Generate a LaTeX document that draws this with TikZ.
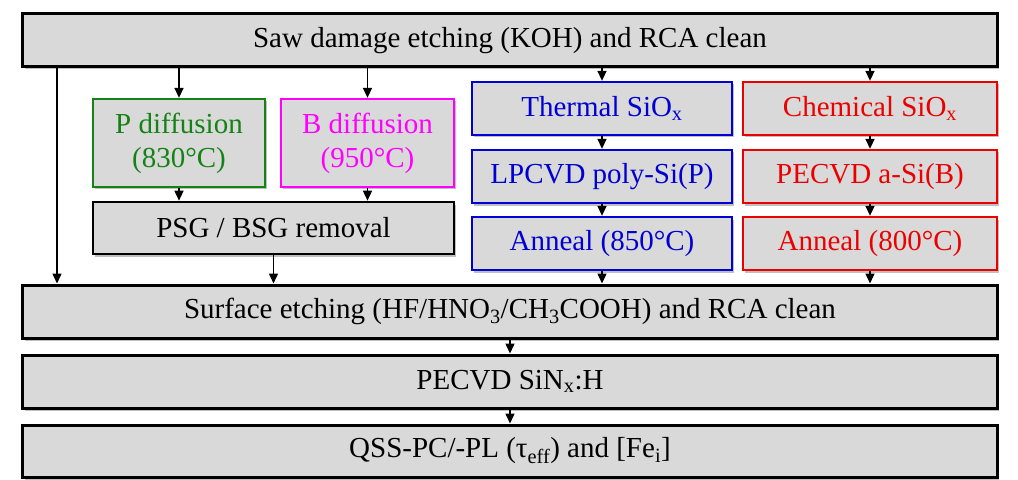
\documentclass[tikz,border=0pt]{standalone}
\usepackage{fontspec}
\setmainfont{Liberation Serif}
\usetikzlibrary{arrows.meta,shadows}
\definecolor{boxfill}{RGB}{217,217,217}
\definecolor{pgreen}{RGB}{20,130,20}
\definecolor{bmagenta}{RGB}{255,0,255}
\definecolor{tblue}{RGB}{0,0,210}
\definecolor{cred}{RGB}{235,0,0}
\begin{document}
\begin{tikzpicture}[
  x=1bp, y=-1bp,
  >={Triangle[length=10bp,width=9bp]},
  flow/.style={line width=1.5bp},
  block/.style={rectangle, draw, fill=boxfill, line width=2.3bp, inner sep=0pt, align=center,
    font=\fontsize{29bp}{34bp}\selectfont,
    drop shadow={shadow xshift=2bp, shadow yshift=-2.5bp, opacity=0.25, fill=black}},
  wide/.style={block, line width=3bp, minimum width=974bp, minimum height=53bp},
  step_p/.style={block, draw=tblue, text=tblue, minimum width=260bp, minimum height=53bp},
  step_b/.style={block, draw=cred, text=cred, minimum width=254bp, minimum height=53bp},
  node distance=68bp
]
\useasboundingbox (0,0) rectangle (1018,480);

% Start
\node[wide] (saw) at (510,40.5) {Saw damage etching (KOH) and RCA clean};
\coordinate (bypass) at (57,0);

% Diffused junctions
\node[block, draw=pgreen, text=pgreen, minimum width=172bp, minimum height=88bp,
  below of=saw, node distance=102.5bp, xshift=-331bp] (pdiff) {P diffusion\\(830°C)};
\node[block, draw=bmagenta, text=bmagenta, minimum width=173bp, minimum height=88bp,
  right of=pdiff, node distance=188.5bp] (bdiff) {B diffusion\\(950°C)};
\node[block, line width=2.6bp, minimum width=361bp, minimum height=52bp,
  below of=pdiff, node distance=85bp, xshift=94.5bp] (psg) {PSG / BSG removal};

% Passivating contacts, P side
\node[step_p, below of=saw, xshift=92bp] (thermal) {Thermal SiO\textsubscript{x}};
\node[step_p, below of=thermal] (lpcvd) {LPCVD poly-Si(P)};
\node[step_p, below of=lpcvd, node distance=67bp] (anneal_p) {Anneal (850°C)};

% Passivating contacts, B side
\node[step_b, right of=thermal, node distance=268bp] (chem) {Chemical SiO\textsubscript{x}};
\node[step_b, right of=lpcvd, node distance=268bp] (pecvd) {PECVD a-Si(B)};
\node[step_b, right of=anneal_p, node distance=268bp] (anneal_b) {Anneal (800°C)};

% Common steps
\node[wide, below of=saw, node distance=271bp] (surface) {Surface etching (HF/HNO\textsubscript{3}/CH\textsubscript{3}COOH) and RCA clean};
\node[wide, below of=surface, node distance=70bp] (sinx) {PECVD SiN\textsubscript{x}:H};
\node[wide, below of=sinx, node distance=69.5bp, minimum height=52bp] (qss) {QSS-PC/-PL (τ\textsubscript{eff}) and [Fe\textsubscript{i}]};

% Connections
\draw[->,flow] (saw.south -| bypass) -- (surface.north -| bypass);
\draw[->,flow] (saw.south -| pdiff.north) -- (pdiff.north);
\draw[->,flow] (saw.south -| bdiff.north) -- (bdiff.north);
\draw[->,flow] (pdiff.south) -- (pdiff.south |- psg.north);
\draw[->,flow] (bdiff.south) -- (bdiff.south |- psg.north);
\draw[->,flow] (psg.south) -- (psg.south |- surface.north);
\draw[->,flow] (saw.south -| thermal.north) -- (thermal.north);
\draw[->,flow] (thermal) -- (lpcvd);
\draw[->,flow] (lpcvd) -- (anneal_p);
\draw[->,flow] (anneal_p.south) -- (anneal_p.south |- surface.north);
\draw[->,flow] (saw.south -| chem.north) -- (chem.north);
\draw[->,flow] (chem) -- (pecvd);
\draw[->,flow] (pecvd) -- (anneal_b);
\draw[->,flow] (anneal_b.south) -- (anneal_b.south |- surface.north);
\draw[->,flow] (surface) -- (sinx);
\draw[->,flow] (sinx) -- (qss);
\end{tikzpicture}
\end{document}
